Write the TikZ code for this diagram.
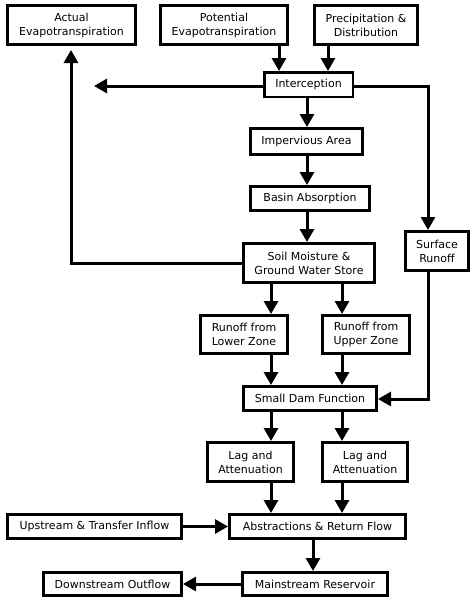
\documentclass[tikz,border=0pt]{standalone}
\usepackage{fontspec}
\setmainfont{DejaVu Sans}
\usetikzlibrary{arrows.meta}
\begin{document}
\begin{tikzpicture}[x=1pt,y=-1pt,
  box/.style={draw=black,line width=3pt,fill=white,inner sep=0pt,align=center,
    font=\fontsize{11}{14}\selectfont},
  arr/.style={line width=3pt,-{Triangle[length=13pt,width=14pt]}},
  ln/.style={line width=3pt}]
\useasboundingbox (0,0) rectangle (474,605);
\fill[white] (0,0) rectangle (474,605);
% nodes
\node[box,minimum width=128pt,minimum height=39pt] (act) at (71.5,25) {Actual\\Evapotranspiration};
\node[box,minimum width=127pt,minimum height=39pt] (pot) at (224,25) {Potential\\Evapotranspiration};
\node[box,minimum width=103pt,minimum height=39pt] (pre) at (366,25) {Precipitation \&\\Distribution};
\node[box,line width=2.5pt,minimum width=88.5pt,minimum height=24.5pt] (int) at (308.5,84.5) {Interception};
\node[box,minimum width=112pt,minimum height=26pt] (imp) at (306.5,141.5) {Impervious Area};
\node[box,minimum width=119pt,minimum height=24pt] (bas) at (310,198.5) {Basin Absorption};
\node[box,minimum width=131pt,minimum height=39pt] (soil) at (309,263) {Soil Moisture \&\\Ground Water Store};
\node[box,minimum width=63pt,minimum height=39pt] (sur) at (437,251) {Surface\\Runoff};
\node[box,minimum width=87pt,minimum height=38pt] (low) at (244,334.5) {Runoff from\\Lower Zone};
\node[box,minimum width=87pt,minimum height=38pt] (upp) at (366,334.5) {Runoff from\\Upper Zone};
\node[box,minimum width=133pt,minimum height=24pt] (dam) at (310,398.5) {Small Dam Function};
\node[box,minimum width=86pt,minimum height=39pt] (lagA) at (250.5,462) {Lag and\\Attenuation};
\node[box,minimum width=85pt,minimum height=39pt] (lagB) at (365,462) {Lag and\\Attenuation};
\node[box,minimum width=176pt,minimum height=24pt] (abs) at (317.5,526.5) {Abstractions \& Return Flow};
\node[box,minimum width=174pt,minimum height=24pt] (ups) at (94.5,526.5) {Upstream \& Transfer Inflow};
\node[box,minimum width=145pt,minimum height=23pt] (main) at (315,584) {Mainstream Reservoir};
\node[box,minimum width=138pt,minimum height=23pt] (down) at (112.5,584) {Downstream Outflow};
% helper coordinates
\coordinate (xP) at (279,0);
\coordinate (xR) at (328,0);
\coordinate (xM) at (307,0);
\coordinate (xL) at (271,0);
\coordinate (xU) at (342,0);
\coordinate (xS) at (428,0);
\coordinate (xA) at (71,0);
\coordinate (xO) at (313,0);
\coordinate (yI) at (0,86);
\coordinate (yD) at (0,399);
\coordinate (tipI) at (94,86);
% connectors
\draw[arr] (pot.south -| xP) -- (int.north -| xP);
\draw[arr] (pre.south -| xR) -- (int.north -| xR);
\draw[arr] (int.west |- yI) -- (tipI);
\draw[arr] (int.east |- yI) -| (sur.north -| xS);
\draw[arr] (int.south -| xM) -- (imp.north -| xM);
\draw[arr] (imp.south -| xM) -- (bas.north -| xM);
\draw[arr] (bas.south -| xM) -- (soil.north -| xM);
\draw[arr,shorten >=4pt] (soil.west) -| (act.south -| xA);
\draw[arr] (soil.south -| xL) -- (low.north -| xL);
\draw[arr] (soil.south -| xU) -- (upp.north -| xU);
\draw[arr] (low.south -| xL) -- (dam.north -| xL);
\draw[arr] (upp.south -| xU) -- (dam.north -| xU);
\draw[arr] (sur.south -| xS) |- (dam.east |- yD);
\draw[arr] (dam.south -| xL) -- (lagA.north -| xL);
\draw[arr] (dam.south -| xU) -- (lagB.north -| xU);
\draw[arr] (lagA.south -| xL) -- (abs.north -| xL);
\draw[arr] (lagB.south -| xU) -- (abs.north -| xU);
\draw[arr] (ups.east) -- (abs.west);
\draw[arr] (abs.south -| xO) -- (main.north -| xO);
\draw[arr] (main.west) -- (down.east);
\end{tikzpicture}
\end{document}
